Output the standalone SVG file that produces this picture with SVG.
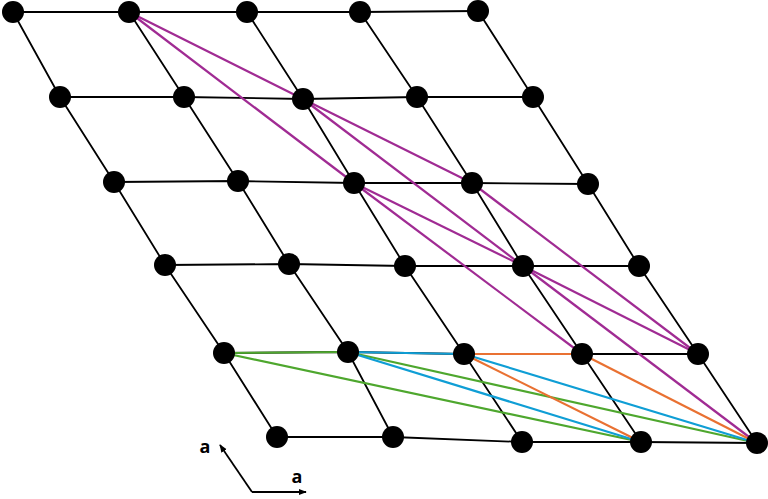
<svg xmlns="http://www.w3.org/2000/svg" width="768" height="499" viewBox="0 0 768 499">
<defs>
<style>
.e{stroke:#000;stroke-width:1.8;fill:none}
.p{stroke:#A02B93;stroke-width:2.2;fill:none}
.g{stroke:#4EA72E;stroke-width:2.2;fill:none}
.b{stroke:#0F9ED5;stroke-width:2.2;fill:none}
.o{stroke:#E97132;stroke-width:2.2;fill:none}
.n{fill:#000}
.lbl{font-family:"Open Sans","Liberation Sans",sans-serif;font-weight:bold;font-size:18px;fill:#000}
</style>
<marker id="ah" viewBox="0 0 10 10" refX="9" refY="5" markerWidth="8" markerHeight="8" orient="auto" markerUnits="userSpaceOnUse">
<path d="M0,1 L10,5 L0,9 Z" fill="#000"/>
</marker>
</defs>
<rect width="768" height="499" fill="#fff"/>
<g id="connectors">
<g id="lattice">
<path class="e" d="M13,12 L129,12 L247,12 L360,12 L478,11"/>
<path class="e" d="M60,97 L184,97 L303,99 L417,97 L533,97"/>
<path class="e" d="M114,182 L238,181 L354,183 L472,183 L588,184"/>
<path class="e" d="M165,265 L289,264 L405,266 L523,266 L639,266"/>
<path class="e" d="M224,353 L348,352 L464,354 L582,354 L698,354"/>
<path class="e" d="M277,437 L393,437 L522,442 L641,442 L757,443"/>
<path class="e" d="M13,12 L60,97 L114,182 L165,265 L224,353 L277,437"/>
<path class="e" d="M129,12 L184,97 L238,181 L289,264 L348,352 L393,437"/>
<path class="e" d="M247,12 L303,99 L354,183 L405,266 L464,354 L522,442"/>
<path class="e" d="M360,12 L417,97 L472,183 L523,266 L582,354 L641,442"/>
<path class="e" d="M478,11 L533,97 L588,184 L639,266 L698,354 L757,443"/>
</g>
<g id="purple">
<line class="p" x1="129" y1="12" x2="303" y2="99"/>
<line class="p" x1="129" y1="12" x2="354" y2="183"/>
<line class="p" x1="303" y1="99" x2="472" y2="183"/>
<line class="p" x1="303" y1="99" x2="523" y2="266"/>
<line class="p" x1="354" y1="183" x2="523" y2="266"/>
<line class="p" x1="354" y1="183" x2="582" y2="354"/>
<line class="p" x1="472" y1="183" x2="698" y2="354"/>
<line class="p" x1="523" y1="266" x2="698" y2="354"/>
<line class="p" x1="523" y1="266" x2="757" y2="443"/>
</g>
<g id="green">
<line class="g" x1="224" y1="353" x2="348" y2="352"/>
<line class="g" x1="224" y1="353" x2="641" y2="442"/>
<line class="g" x1="348" y1="352" x2="757" y2="443"/>
</g>
<g id="blue">
<line class="b" x1="348" y1="352" x2="464" y2="354"/>
<line class="b" x1="348" y1="352" x2="641" y2="442"/>
<line class="b" x1="464" y1="354" x2="757" y2="443"/>
</g>
<g id="orange">
<line class="o" x1="464" y1="354" x2="582" y2="354"/>
<line class="o" x1="464" y1="354" x2="641" y2="442"/>
<line class="o" x1="582" y1="354" x2="757" y2="443"/>
</g>
<g id="axes">
<line class="e" x1="252" y1="492" x2="306" y2="492" marker-end="url(#ah)"/>
<line class="e" x1="252" y1="492" x2="220" y2="445" marker-end="url(#ah)"/>
</g>
</g>
<g id="nodes">
<g id="n00"><circle class="n" cx="13" cy="12" r="11"/></g>
<g id="n01"><circle class="n" cx="129" cy="12" r="11"/></g>
<g id="n02"><circle class="n" cx="247" cy="12" r="11"/></g>
<g id="n03"><circle class="n" cx="360" cy="12" r="11"/></g>
<g id="n04"><circle class="n" cx="478" cy="11" r="11"/></g>
<g id="n10"><circle class="n" cx="60" cy="97" r="11"/></g>
<g id="n11"><circle class="n" cx="184" cy="97" r="11"/></g>
<g id="n12"><circle class="n" cx="303" cy="99" r="11"/></g>
<g id="n13"><circle class="n" cx="417" cy="97" r="11"/></g>
<g id="n14"><circle class="n" cx="533" cy="97" r="11"/></g>
<g id="n20"><circle class="n" cx="114" cy="182" r="11"/></g>
<g id="n21"><circle class="n" cx="238" cy="181" r="11"/></g>
<g id="n22"><circle class="n" cx="354" cy="183" r="11"/></g>
<g id="n23"><circle class="n" cx="472" cy="183" r="11"/></g>
<g id="n24"><circle class="n" cx="588" cy="184" r="11"/></g>
<g id="n30"><circle class="n" cx="165" cy="265" r="11"/></g>
<g id="n31"><circle class="n" cx="289" cy="264" r="11"/></g>
<g id="n32"><circle class="n" cx="405" cy="266" r="11"/></g>
<g id="n33"><circle class="n" cx="523" cy="266" r="11"/></g>
<g id="n34"><circle class="n" cx="639" cy="266" r="11"/></g>
<g id="n40"><circle class="n" cx="224" cy="353" r="11"/></g>
<g id="n41"><circle class="n" cx="348" cy="352" r="11"/></g>
<g id="n42"><circle class="n" cx="464" cy="354" r="11"/></g>
<g id="n43"><circle class="n" cx="582" cy="354" r="11"/></g>
<g id="n44"><circle class="n" cx="698" cy="354" r="11"/></g>
<g id="n50"><circle class="n" cx="277" cy="437" r="11"/></g>
<g id="n51"><circle class="n" cx="393" cy="437" r="11"/></g>
<g id="n52"><circle class="n" cx="522" cy="442" r="11"/></g>
<g id="n53"><circle class="n" cx="641" cy="442" r="11"/></g>
<g id="n54"><circle class="n" cx="757" cy="443" r="11"/></g>
</g>
<g id="labels">
<text class="lbl" x="205" y="453" text-anchor="middle">a</text>
<text class="lbl" x="297" y="483" text-anchor="middle">a</text>
</g>
</svg>
